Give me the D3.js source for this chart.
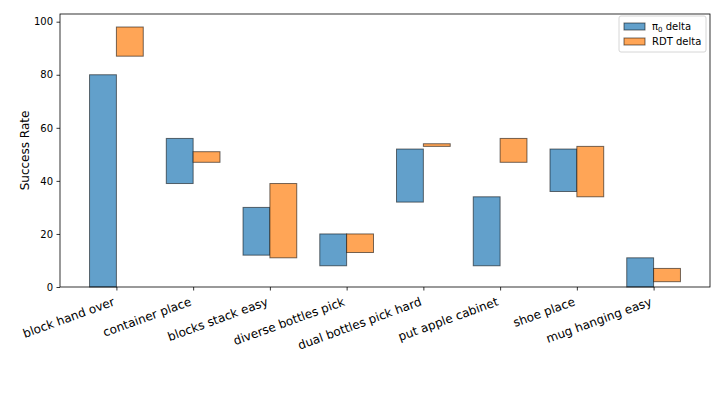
<!DOCTYPE html>
<html>
<head>
    <script src="https://d3js.org/d3.v7.min.js"></script>
    <style>
        body { margin: 0; background: white; }
        text { font-family: "DejaVu Sans", sans-serif; fill: #000; }
        .bar { stroke: #000; stroke-opacity: 0.55; stroke-width: 1; }
    </style>
</head>
<body>
<script>
    // tasks along the x axis
    var tasks = ["block hand over", "container place", "blocks stack easy", "diverse bottles pick",
                 "dual bottles pick hard", "put apple cabinet", "shoe place", "mug hanging easy"];
    // pi0 delta: bottom and top of each floating bar
    var pi0Low  = [0, 39, 12, 8, 32, 8, 36, 0];
    var pi0High = [80, 56, 30, 20, 52, 34, 52, 11];
    // RDT delta
    var rdtLow  = [87, 47, 11, 13, 53, 47, 34, 2];
    var rdtHigh = [98, 51, 39, 20, 54, 56, 53, 7];
    var yTicks = [0, 20, 40, 60, 80, 100];

    var W = 728, H = 404;
    var m = {left: 60, right: 710, top: 14, bottom: 287};
    var barW = 0.35;

    var svg = d3.select("body").append("svg")
        .attr("width", W)
        .attr("height", H);

    var x = d3.scaleLinear().domain([-0.735, tasks.length - 1 + 0.735]).range([m.left, m.right]);
    var y = d3.scaleLinear().domain([0, 102.9]).range([m.bottom, m.top]);

    var series = [
        {name: "pi0", low: pi0Low, high: pi0High, color: "#62a0cb", offset: -barW / 2},
        {name: "rdt", low: rdtLow, high: rdtHigh, color: "#ffa556", offset: barW / 2}
    ];

    series.forEach(function(s) {
        svg.append("g").selectAll("rect")
            .data(tasks)
            .enter()
            .append("rect")
            .attr("class", "bar")
            .attr("x", (d, i) => x(i + s.offset - barW / 2))
            .attr("width", x(barW) - x(0))
            .attr("y", (d, i) => y(s.high[i]))
            .attr("height", (d, i) => y(s.low[i]) - y(s.high[i]))
            .attr("fill", s.color);
    });

    // axes
    var yAxis = d3.axisLeft(y).tickValues(yTicks).tickSize(3.5).tickPadding(3.5);
    var gy = svg.append("g").attr("transform", "translate(" + m.left + ",0)").call(yAxis);
    gy.select(".domain").remove();
    gy.selectAll("line").attr("stroke", "#000").attr("stroke-width", 0.8);
    gy.selectAll("text").style("font-size", "10px").style("font-family", "DejaVu Sans");

    var xAxis = d3.axisBottom(x).tickValues(d3.range(tasks.length)).tickSize(3.5).tickFormat("");
    var gx = svg.append("g").attr("transform", "translate(0," + m.bottom + ")").call(xAxis);
    gx.select(".domain").remove();
    gx.selectAll("line").attr("stroke", "#000").attr("stroke-width", 0.8);

    svg.append("g").selectAll("text")
        .data(tasks)
        .enter()
        .append("text")
        .attr("text-anchor", "end")
        .attr("transform", (d, i) => "translate(" + (x(i) - 1) + "," + (m.bottom + 18) + ") rotate(-20)")
        .style("font-size", "12px")
        .text(d => d);

    // frame
    svg.append("rect")
        .attr("x", m.left).attr("y", m.top)
        .attr("width", m.right - m.left).attr("height", m.bottom - m.top)
        .attr("fill", "none").attr("stroke", "#000").attr("stroke-width", 0.8);

    svg.append("text")
        .attr("transform", "translate(29," + ((m.top + m.bottom) / 2) + ") rotate(-90)")
        .attr("text-anchor", "middle")
        .style("font-size", "12px")
        .text("Success Rate");

    // legend
    var lg = svg.append("g").attr("transform", "translate(619,16)");
    lg.append("rect")
        .attr("width", 87).attr("height", 36).attr("rx", 2)
        .attr("fill", "white").attr("fill-opacity", 0.8)
        .attr("stroke", "#ccc").attr("stroke-width", 0.8);
    series.forEach(function(s, i) {
        lg.append("rect")
            .attr("class", "bar")
            .attr("x", 5).attr("y", 7 + i * 15)
            .attr("width", 21).attr("height", 7)
            .attr("fill", s.color);
    });
    var t0 = lg.append("text").attr("x", 33).attr("y", 14).style("font-size", "10px");
    t0.append("tspan").text("\u03c0");
    t0.append("tspan").attr("dy", 2).style("font-size", "7px").text("0");
    t0.append("tspan").attr("dy", -2).text(" delta");
    lg.append("text").attr("x", 33).attr("y", 29).style("font-size", "10px").text("RDT delta");
</script>
</body>
</html>
